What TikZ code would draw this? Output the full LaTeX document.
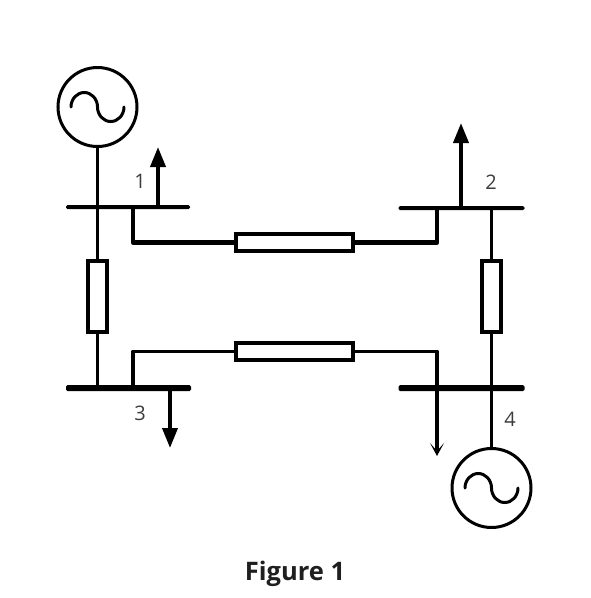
\documentclass[tikz,border=0pt]{standalone}
\usepackage{fontspec}
\setmainfont{Open Sans}
\usetikzlibrary{arrows.meta}
\definecolor{lbl}{RGB}{60,60,60}
\tikzset{
  x=1pt,y=-1pt,
  gen/.style={draw,circle,line width=3pt,minimum size=79pt,inner sep=0pt,fill=white},
  busbar/.style={fill=black,draw=none,rectangle,inner sep=0pt,minimum height=#1,rounded corners=1.5pt},
  res/.style={draw,rectangle,line width=3.2pt,fill=white,inner sep=0pt},
  wire/.style={line width=4.4pt,line join=round},
  thinwire/.style={line width=3.9pt,line join=round},
  load/.style={line width=3.8pt,-{Triangle[length=20pt,width=15pt]}},
  smallload/.style={line width=3.4pt,-{Stealth[length=13pt,width=14pt,inset=8pt]}},
  num/.style={text=lbl,font=\fontsize{20}{20}\selectfont,inner sep=0pt},
  wave/.style={line width=3pt,line cap=round}
}
\begin{document}
\begin{tikzpicture}
\useasboundingbox (0,0) rectangle (590,598);
% buses
\node[busbar=4pt,minimum width=124pt] (b1) at (128,207) {};
\node[busbar=4pt,minimum width=126pt] (b2) at (461.5,208) {};
\node[busbar=6pt,minimum width=125pt] (b3) at (128.5,388) {};
\node[busbar=6pt,minimum width=126pt] (b4) at (461.5,388) {};
% devices
\node[gen] (g1) at (97.5,107) {};
\node[gen] (g4) at (491.5,488) {};
\node[res,minimum width=19pt,minimum height=71pt] (r13) at (97.5,296.5) {};
\node[res,minimum width=19pt,minimum height=71pt] (r24) at (491.5,296.5) {};
\node[res,minimum width=117pt,minimum height=17pt] (r12) at (294.5,242.5) {};
\node[res,minimum width=117pt,minimum height=17pt] (r34) at (294.5,351.5) {};
% named points on the buses
\coordinate (t1) at (133,207);
\coordinate (t2) at (437,208);
\coordinate (t3) at (133,388);
\coordinate (t4) at (437,388);
\coordinate (l1a) at (158,207);
\coordinate (l1b) at (158,147);
\coordinate (l2a) at (461,208);
\coordinate (l2b) at (461,123);
\coordinate (l3a) at (170,388);
\coordinate (l3b) at (170,448);
\coordinate (l4b) at (437,456);
% connectors
\draw[thinwire] (g1.south) -- (r13.north);
\draw[thinwire] (r13.south) -- (r13.south |- b3.center);
\draw[thinwire] (r24.north |- b2.center) -- (r24.north);
\draw[thinwire] (r24.south) -- (g4.north);
\draw[wire] (t1) |- (r12.west);
\draw[wire] (r12.east) -| (t2);
\draw[thinwire] (t3) |- (r34.west);
\draw[thinwire] (r34.east) -| (t4);
\draw[load] (l1a) -- (l1b);
\draw[load] (l2a) -- (l2b);
\draw[load] (l3a) -- (l3b);
\draw[smallload] (t4) -- (l4b);
% sine waves
\draw[wave] (71,107) arc[start angle=180,end angle=0,x radius=13.25pt,y radius=14.5pt]
            arc[start angle=180,end angle=360,x radius=13.25pt,y radius=14.5pt];
\draw[wave] (465,488) arc[start angle=180,end angle=0,x radius=13.25pt,y radius=14.5pt]
            arc[start angle=180,end angle=360,x radius=13.25pt,y radius=14.5pt];
% labels
\node[num] (n1) at (140,181.5) {1};
\node[num] (n2) at (491,182.5) {2};
\node[num] (n3) at (140,413.5) {3};
\node[num] (n4) at (510,419.5) {4};
\node[font=\fontsize{25.5}{25.5}\selectfont\bfseries,text=black!88,inner sep=0pt] (cap) at (295,574) {Figure 1};
\end{tikzpicture}
\end{document}
